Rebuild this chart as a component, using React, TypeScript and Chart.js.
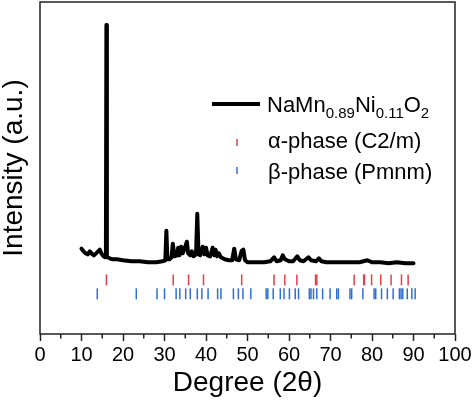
import React, { useEffect, useRef } from "react";
import { Chart, registerables } from "chart.js";

Chart.register(...registerables);

// Measured powder pattern: 2θ (degrees) and relative intensity (a.u.)
const twoTheta = [
  10.0, 10.5, 11.0, 11.5, 12.0, 12.4, 13.0, 13.5, 14.0, 14.4, 14.8, 15.3, 15.7,
  15.88, 16.0, 16.12, 16.3, 16.8, 17.5, 18.5, 20.0, 22.0, 24.0, 26.0, 28.0,
  29.5, 30.2, 30.45, 30.7, 31.2, 31.7, 32.0, 32.4, 33.0, 33.3, 33.6, 34.0,
  34.4, 34.9, 35.4, 35.7, 36.2, 36.6, 37.0, 37.6, 37.9, 38.2, 38.6, 39.2,
  39.6, 40.0, 40.4, 41.0, 41.6, 42.0, 42.3, 42.7, 43.1, 43.6, 44.5, 45.5,
  46.3, 46.8, 47.2, 48.0, 48.6, 49.0, 49.4, 50.0, 52.0, 54.0, 55.5, 56.4,
  57.0, 58.0, 58.5, 59.0, 60.0, 61.0, 62.0, 62.6, 63.5, 64.7, 65.3, 66.5,
  67.2, 67.8, 69.0, 71.0, 73.0, 75.0, 77.0, 78.9, 80.0, 82.0, 84.0, 86.0,
  88.0, 90.0,
];
const intensity = [
  25.7, 24.9, 24.3, 24.0, 24.9, 24.3, 23.7, 24.3, 24.9, 25.4, 24.3, 23.4, 23.1,
  23.4, 93.1, 23.4, 23.1, 22.8, 22.5, 22.5, 22.2, 21.9, 21.9, 21.6, 21.6,
  21.9, 22.2, 31.1, 22.5, 22.5, 23.1, 27.2, 23.4, 23.7, 26.0, 23.7, 26.3,
  24.3, 26.0, 27.8, 24.3, 23.7, 24.9, 23.4, 24.0, 36.2, 24.0, 23.7, 26.3,
  24.0, 26.0, 23.7, 23.4, 26.0, 23.7, 25.4, 23.4, 24.3, 23.1, 22.5, 22.2,
  22.2, 25.7, 22.5, 22.2, 25.1, 25.4, 22.2, 21.6, 21.6, 21.6, 21.9, 23.1,
  21.9, 22.2, 23.7, 22.5, 21.9, 21.9, 23.4, 22.2, 21.9, 23.1, 22.2, 21.9,
  22.8, 21.9, 21.6, 21.6, 21.6, 21.6, 21.6, 22.2, 21.6, 21.6, 21.3, 21.6,
  21.3, 21.3,
];

// Reference reflection positions (2θ) for the two phases
const alphaPositions = [
  16.0, 32.1, 35.8, 39.4, 48.6, 56.4, 59.0, 61.9, 66.4, 66.7, 75.7, 78.0, 78.2,
  79.9, 82.1, 84.6, 87.1, 88.7,
];
const betaPositions = [
  13.8, 23.2, 28.2, 30.0, 32.8, 33.7, 35.1, 36.2, 37.9, 39.0, 40.5, 42.8, 43.6,
  46.6, 47.8, 48.9, 50.8, 54.5, 54.9, 56.2, 57.9, 58.8, 60.1, 61.5, 62.3, 64.9,
  65.3, 65.9, 66.7, 68.1, 69.9, 71.5, 71.9, 74.7, 75.1, 77.8, 80.5, 80.9, 82.3,
  83.7, 85.1, 86.6, 87.0, 87.4, 88.5, 89.6, 90.4,
];
// Rows (in intensity units) where each phase's reflection markers sit
const alphaRow = 16.3;
const betaRow = 12.1;

const minorTicks = [5, 15, 25, 35, 45, 55, 65, 75, 85, 95];

const FONT = "'Liberation Sans', Arial, Helvetica, sans-serif";
const RED = "#e2404a";
const BLUE = "#2f6fd4";
const FRAME = "#222";

const framePlugin = {
  id: "frameAndMinorTicks",
  afterDatasetsDraw(chart: any) {
    const { ctx, chartArea, scales } = chart;
    ctx.save();
    ctx.strokeStyle = FRAME;
    ctx.lineWidth = 1.5;
    ctx.strokeRect(
      chartArea.left,
      chartArea.top,
      chartArea.right - chartArea.left,
      chartArea.bottom - chartArea.top
    );
    ctx.beginPath();
    for (const v of minorTicks) {
      const px = scales.x.getPixelForValue(v);
      ctx.moveTo(px, chartArea.bottom);
      ctx.lineTo(px, chartArea.bottom + 4.5);
    }
    ctx.stroke();
    ctx.restore();
  },
};

const legendPlugin = {
  id: "phaseLegend",
  afterDraw(chart: any) {
    const { ctx, chartArea } = chart;
    const L = chartArea.left;
    const T = chartArea.top;
    ctx.save();

    // sample line
    ctx.strokeStyle = "#000";
    ctx.lineWidth = 4;
    ctx.lineCap = "butt";
    ctx.beginPath();
    ctx.moveTo(L + 172, T + 102);
    ctx.lineTo(L + 220, T + 102);
    ctx.stroke();

    // formula with subscripts
    const runs: [string, boolean][] = [
      ["NaMn", false],
      ["0.89", true],
      ["Ni", false],
      ["0.11", true],
      ["O", false],
      ["2", true],
    ];
    ctx.fillStyle = "#000";
    ctx.textBaseline = "alphabetic";
    ctx.textAlign = "left";
    let x = L + 227;
    for (const [t, sub] of runs) {
      ctx.font = sub ? `15px ${FONT}` : `22px ${FONT}`;
      ctx.fillText(t, x, sub ? T + 116 : T + 110);
      x += ctx.measureText(t).width;
    }

    // phase markers
    ctx.lineWidth = 1.5;
    ctx.strokeStyle = RED;
    ctx.beginPath();
    ctx.moveTo(L + 197, T + 137);
    ctx.lineTo(L + 197, T + 144);
    ctx.stroke();
    ctx.strokeStyle = BLUE;
    ctx.beginPath();
    ctx.moveTo(L + 197, T + 165);
    ctx.lineTo(L + 197, T + 172);
    ctx.stroke();

    ctx.font = `22px ${FONT}`;
    ctx.fillText("\u03b1-phase (C2/m)", L + 228, T + 146);
    ctx.fillText("\u03b2-phase (Pmnm)", L + 228, T + 177);
    ctx.restore();
  },
};

export default function App() {
  const canvasRef = useRef<HTMLCanvasElement | null>(null);

  useEffect(() => {
    if (!canvasRef.current) return;
    const pattern = twoTheta.map((t, i) => ({ x: t, y: intensity[i] }));
    const alpha = alphaPositions.map((t) => ({ x: t, y: alphaRow }));
    const beta = betaPositions.map((t) => ({ x: t, y: betaRow }));

    const chart = new Chart(canvasRef.current, {
      type: "line",
      data: {
        datasets: [
          {
            label: "NaMn0.89Ni0.11O2",
            data: pattern,
            borderColor: "#000",
            borderWidth: 4,
            pointRadius: 0,
            tension: 0,
            borderJoinStyle: "round",
            borderCapStyle: "round",
          },
          {
            type: "scatter",
            label: "\u03b1-phase (C2/m)",
            data: alpha,
            showLine: false,
            pointStyle: "line",
            rotation: 90,
            pointRadius: 5.5,
            borderWidth: 1.5,
            borderColor: RED,
            backgroundColor: RED,
          },
          {
            type: "scatter",
            label: "\u03b2-phase (Pmnm)",
            data: beta,
            showLine: false,
            pointStyle: "line",
            rotation: 90,
            pointRadius: 5.5,
            borderWidth: 1.5,
            borderColor: BLUE,
            backgroundColor: BLUE,
          },
        ] as any,
      },
      options: {
        animation: false,
        responsive: false,
        devicePixelRatio: 1,
        layout: { autoPadding: false, padding: { left: 0, right: 19, top: 2, bottom: 0 } },
        plugins: {
          legend: { display: false },
          tooltip: { enabled: false },
        },
        scales: {
          x: {
            type: "linear",
            min: 0,
            max: 100,
            border: { display: false },
            grid: {
              display: true,
              drawOnChartArea: false,
              drawTicks: true,
              tickLength: 7,
              tickWidth: 1.5,
              tickColor: FRAME,
            },
            ticks: {
              stepSize: 10,
              maxRotation: 0,
              autoSkip: false,
              padding: 2,
              color: "#000",
              font: { family: FONT, size: 20 },
            },
            title: {
              display: true,
              text: "Degree (2\u03b8)",
              color: "#000",
              font: { family: FONT, size: 28, lineHeight: 1 },
              padding: { top: 0, bottom: 5 },
            },
          },
          y: {
            type: "linear",
            min: 0,
            max: 100,
            border: { display: false },
            grid: { display: false, drawTicks: false },
            ticks: { display: false },
            title: {
              display: true,
              text: "Intensity (a.u.)",
              color: "#000",
              font: { family: FONT, size: 28, lineHeight: 1 },
              padding: { top: 0, bottom: 12 },
            },
          },
        },
      },
      plugins: [framePlugin, legendPlugin],
    });
    return () => chart.destroy();
  }, []);

  return (
    <div style={{ position: "absolute", left: 0, top: 0, width: 474, height: 402, background: "#fff" }}>
      <canvas ref={canvasRef} width={474} height={402} />
    </div>
  );
}
